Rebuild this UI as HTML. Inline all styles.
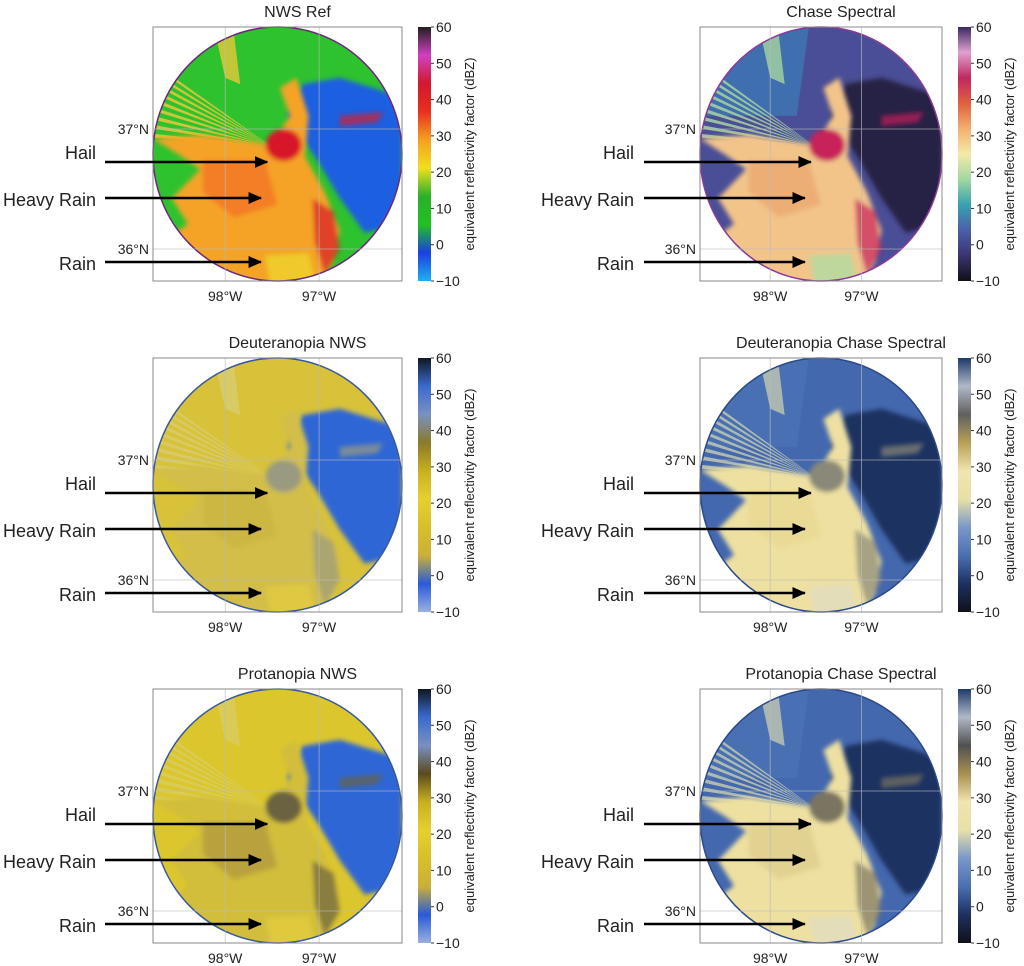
<!DOCTYPE html>
<html><head><meta charset="utf-8"><style>
body{margin:0;background:#fff;width:1024px;height:966px;overflow:hidden}
svg{display:block}
text{font-family:"Liberation Sans",sans-serif;fill:#222}
</style></head><body>
<svg id="s" width="1024" height="966" xmlns="http://www.w3.org/2000/svg"></svg>
<script>
const P=[
 {t:"NWS Ref",c:0,r:0,bg:"#2ec22e",east:"#1f5fe0",pre:"#f5a326",pre2:"#f2662a",edge:"#ecd52a",core:"#d8182a",ray:"#e8c83a",rim:"#6a2a7a",
  cb:["#1fb0f0","#1a40e0","#22c022","#2ab02a","#f0e020","#f5a020","#e83020","#d01830","#d040c0","#202020"]},
 {t:"Chase Spectral",c:1,r:0,bg:"#4a4e96",east:"#262444",pre:"#f2c48a",pre2:"#eaa068",edge:"#b0dca0",core:"#c8205a",ray:"#a8d4a0",rim:"#8a3a9a",west:"#3f6fae",
  cb:["#101018","#3a3470","#4a60a8","#3aa0b0","#a0d8a0","#f4eaa8","#f2b070","#e06040","#c02860","#e0a0d0","#3a2a60"]},
 {t:"Deuteranopia NWS",c:0,r:1,bg:"#d8c23a",east:"#2f66d6",pre:"#d2be4a",pre2:"#c8b240",edge:"#e2cc40",core:"#9a9a80",ray:"#d8cc70",rim:"#3a5a9a",
  cb:["#9ab0e0","#2a5ad8","#cab038","#d6c02a","#e6d030","#c8b020","#8a7a2a","#7a90c0","#3a6ad0","#101820"]},
 {t:"Deuteranopia Chase Spectral",c:1,r:1,bg:"#4468ae",east:"#1e3060",pre:"#eee0a0",pre2:"#e6d690",edge:"#e0dcc0",core:"#8a8878",ray:"#c0c8b0",rim:"#2a4a8a",west:"#4a70b4",
  cb:["#101018","#1e3060","#4a70b0","#7a98c8","#e8e0a8","#f0e4b0","#b8a058","#606060","#b0b8c8","#1e3a6a"]},
 {t:"Protanopia NWS",c:0,r:2,bg:"#dcc62e",east:"#2f66d6",pre:"#d2be3a",pre2:"#a89040",edge:"#e2cc40",core:"#6a6240",ray:"#d8cc60",rim:"#3a5a9a",
  cb:["#9ab0e0","#2a5ad8","#cab038","#d6c02a","#e6d030","#c8b020","#5a4a20","#7a90c0","#3a6ad0","#101820"]},
 {t:"Protanopia Chase Spectral",c:1,r:2,bg:"#4468ae",east:"#1e3060",pre:"#eee0a0",pre2:"#d8c888",edge:"#e0dcc0",core:"#7a7460",ray:"#c0c8b0",rim:"#2a4a8a",west:"#4a70b4",
  cb:["#101018","#1e3060","#4a70b0","#7a98c8","#e8e0a8","#f0e4b0","#a89050","#505050","#b0b8c8","#1e3a6a"]}
];
let h="<defs>";
P.forEach((p,i)=>{
 h+=`<linearGradient id="g${i}" x1="0" y1="1" x2="0" y2="0">`+p.cb.map((c,k)=>`<stop offset="${k/(p.cb.length-1)}" stop-color="${c}"/>`).join("")+`</linearGradient>`;
 h+=`<filter id="b${i}"><feGaussianBlur stdDeviation="2.5"/></filter>`;
});
h+=`<marker id="ar" markerWidth="6" markerHeight="6" refX="5" refY="3" orient="auto" markerUnits="strokeWidth"><path d="M0,0.6 L5.4,3 L0,5.4z" fill="#000"/></marker>`;
P.forEach((p,i)=>{const bw=p.c?242:249;const cx=(p.c?700:153)+bw/2,cy=27+p.r*331+127;h+=`<clipPath id="c${i}"><ellipse cx="${cx}" cy="${cy}" rx="${bw/2}" ry="127"/></clipPath>`;});
h+="</defs>";
P.forEach((p,i)=>{
 const bx=p.c?700:153, by=27+p.r*331, bw=p.c?242:249, bh=254;
 const cx=bx+bw/2, cy=by+127, R=bw/2;
 const X=u=>cx+u*R, Y=v=>cy+v*127;
 const pts=a=>a.map(q=>X(q[0]).toFixed(1)+","+Y(q[1]).toFixed(1)).join(" ");
 h+=`<text x="${bx+bw/2+20}" y="${by-10}" font-size="16" text-anchor="middle">${p.t}</text>`;
 h+=`<g clip-path="url(#c${i})">`;
 h+=`<rect x="${bx}" y="${by}" width="${bw}" height="${bh}" fill="${p.bg}"/>`;
 if(p.west) h+=`<polygon points="${pts([[-1,-1],[-0.1,-1],[-0.2,-0.3],[-1,-0.3]])}" fill="${p.west}"/>`;
 // east region
 h+=`<g filter="url(#b${i})"><polygon points="${pts([[0.08,-0.3],[0.2,-0.55],[0.5,-0.6],[1,-0.45],[1,0.55],[0.7,0.62],[0.5,0.35],[0.32,0.05],[0.2,-0.12]])}" fill="${p.east}"/></g>`;
 // rays
 for(let k=0;k<9;k++){const a1=-0.72+k*0.07;h+=`<polygon points="${pts([[-0.05,-0.06],[-1,a1],[-1,a1+0.03]])}" fill="${p.ray}" opacity="0.85"/>`;}
 h+=`<polygon points="${pts([[-0.5,-0.95],[-0.35,-0.95],[-0.3,-0.55],[-0.42,-0.6]])}" fill="${p.ray}" opacity="0.8"/>`;
 // precip
 h+=`<g filter="url(#b${i})"><polygon points="${pts([[-1,-0.12],[-0.6,-0.15],[-0.05,-0.07],[0.1,-0.3],[0.02,-0.52],[0.15,-0.6],[0.25,-0.3],[0.22,0.02],[0.38,0.3],[0.5,0.6],[0.45,0.85],[0.3,1.1],[-1,1.1],[-1,0.75],[-0.72,0.55],[-0.85,0.35],[-0.62,0.12],[-0.8,0]])}" fill="${p.pre}"/>`;
 h+=`<polygon points="${pts([[-0.6,0.05],[-0.1,0.05],[0,0.4],[-0.35,0.5],[-0.6,0.3]])}" fill="${p.pre2}" opacity="0.6"/>`;
 h+=`<polygon points="${pts([[0.28,0.35],[0.45,0.45],[0.5,0.75],[0.38,0.95],[0.3,0.7]])}" fill="${p.core}" opacity="0.7"/>`;
 h+=`<polygon points="${pts([[-0.1,0.8],[0.25,0.78],[0.3,1],[-0.05,1.05]])}" fill="${p.edge}" opacity="0.8"/>`;
 h+=`<polygon points="${pts([[0.5,-0.3],[0.85,-0.33],[0.8,-0.25],[0.5,-0.22]])}" fill="${p.core}" opacity="0.7"/>`;
 h+=`<ellipse cx="${X(0.05)}" cy="${Y(-0.07)}" rx="18" ry="16" fill="${p.core}"/></g>`;
 h+=`</g>`;
 h+=`<ellipse cx="${cx}" cy="${cy}" rx="${R}" ry="127" fill="none" stroke="${p.rim}" stroke-width="1.5"/>`;
 // grid
 const gx1=bx+bw*0.29, gx2=bx+bw*0.667, gy1=by+102, gy2=by+222;
 h+=`<g stroke="#bbb" stroke-width="0.8" opacity="0.8"><line x1="${gx1}" y1="${by}" x2="${gx1}" y2="${by+bh}"/><line x1="${gx2}" y1="${by}" x2="${gx2}" y2="${by+bh}"/><line x1="${bx}" y1="${gy1}" x2="${bx+bw}" y2="${gy1}"/><line x1="${bx}" y1="${gy2}" x2="${bx+bw}" y2="${gy2}"/></g>`;
 h+=`<rect x="${bx}" y="${by}" width="${bw}" height="${bh}" fill="none" stroke="#888" stroke-width="1"/>`;
 h+=`<text x="${bx-4}" y="${gy1+5}" font-size="14" text-anchor="end">37°N</text><text x="${bx-4}" y="${gy2+5}" font-size="14" text-anchor="end">36°N</text>`;
 h+=`<text x="${gx1}" y="${by+bh+20}" font-size="14" text-anchor="middle">98°W</text><text x="${gx2}" y="${by+bh+20}" font-size="14" text-anchor="middle">97°W</text>`;
 // colorbar
 const cbx=bx+bw+16;
 h+=`<rect x="${cbx}" y="${by}" width="13" height="${bh}" fill="url(#g${i})"/>`;
 for(let k=0;k<=7;k++){const ty=by+bh-k*bh/7;h+=`<line x1="${cbx+13}" y1="${ty}" x2="${cbx+16}" y2="${ty}" stroke="#333"/><text x="${cbx+18}" y="${ty+5}" font-size="14">${k==0?"−10":(k-1)*10}</text>`;}
 h+=`<text transform="translate(${cbx+56},${by+bh/2}) rotate(-90)" font-size="13" text-anchor="middle">equivalent reflectivity factor (dBZ)</text>`;
 // arrows
 const ax=p.c?644:105, lx=p.c?634:96;
 [["Hail",by+135,X(-0.05)],["Heavy Rain",by+171,X(-0.1)],["Rain",by+235,X(-0.1)]].forEach(a=>{
  h+=`<text x="${lx}" y="${a[1]+(a[0]=="Hail"?-3:8)}" font-size="18" text-anchor="end">${a[0]}</text>`;
  h+=`<line x1="${ax}" y1="${a[1]}" x2="${a[2]-4}" y2="${a[1]}" stroke="#000" stroke-width="2.5" marker-end="url(#ar)"/>`;
 });
});
document.getElementById("s").innerHTML=h;
</script>
</body></html>
